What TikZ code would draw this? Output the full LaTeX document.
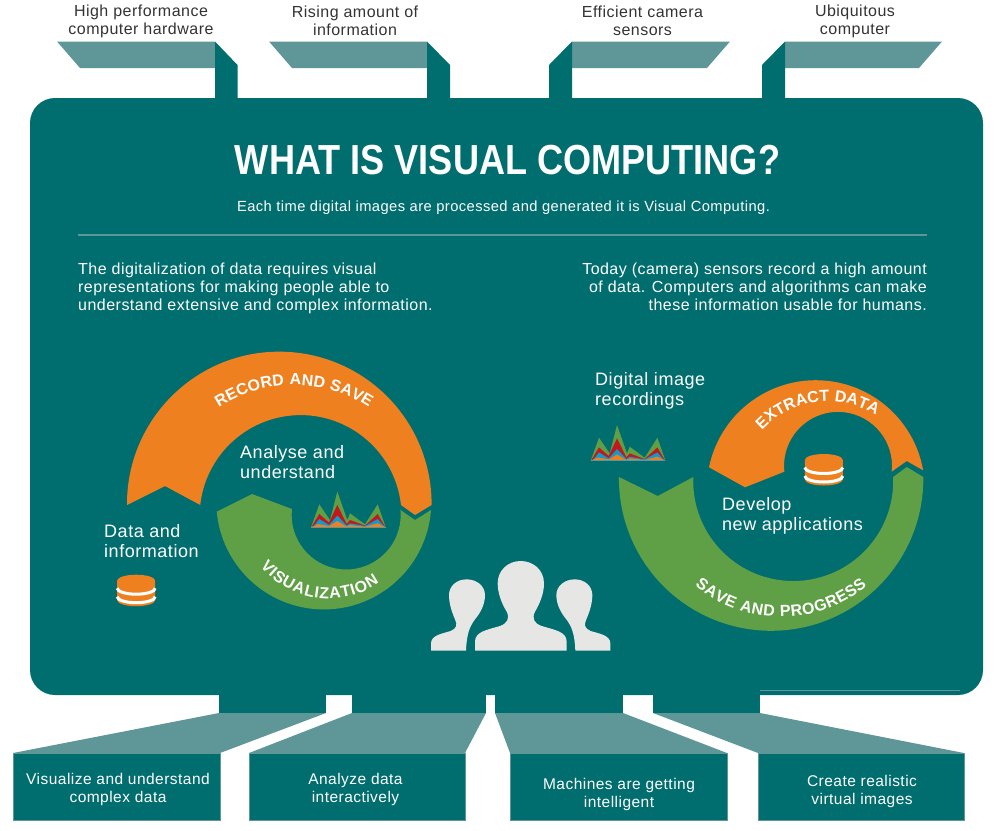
\documentclass[tikz,border=0pt]{standalone}
\usepackage{fontspec}
\setmainfont[LetterSpace=3]{Liberation Sans}
\newfontfamily\titlefont[FakeStretch=0.86]{Liberation Sans}
\usetikzlibrary{decorations.text}
\definecolor{panelteal}{HTML}{006D6F}
\definecolor{lightteal}{HTML}{5F9799}
\definecolor{ringorange}{HTML}{EF8020}
\definecolor{ringgreen}{HTML}{5F9F45}
\definecolor{chartred}{HTML}{C5161D}
\definecolor{chartblue}{HTML}{0E9BD0}
\definecolor{persongray}{HTML}{E6E6E5}
\definecolor{toptext}{HTML}{333333}
\tikzstyle{panel} = [rectangle, fill=panelteal, rounded corners=25pt, minimum width=953pt, minimum height=597pt, inner sep=0pt]
\tikzstyle{outbox} = [rectangle, fill=panelteal, draw=lightteal, line width=0.5pt, minimum height=67pt, inner sep=0pt]
\tikzstyle{toplabel} = [text=toptext, align=center, font=\fontsize{16}{18}\selectfont]
\tikzstyle{boxlabel} = [text=white, align=center, font=\fontsize{15.5}{18}\selectfont]
\tikzstyle{bodytext} = [text=white, inner sep=0pt, font=\fontsize{16}{18}\selectfont]
\tikzstyle{ringlabel} = [text=white, inner sep=0pt, align=left, anchor=north west, font=\fontsize{18}{20}\selectfont]
\tikzstyle{person} = [fill=persongray]
\newcommand{\ringfont}{\fontsize{16}{16}\selectfont\bfseries}
\newcommand{\ringtext}[7]{\path [decorate, decoration={text effects along path, text={#6}, text align=center,
	text effects/.cd, text along path, characters={text=white, font=\ringfont, inner xsep=#7pt}, character widths={font=\ringfont, inner xsep=#7pt}}]
	([shift={(#4:#3pt)}]#1,#2) arc[start angle=#4, end angle=#5, radius=#3pt];}
\newcommand{\sideperson}{\fill [person] (33,302) -- (33,280) .. controls (33,255) and (70,250) .. (92,243)
	.. controls (110,235) and (113,225) .. (105,208) .. controls (95,185) and (87,160) .. (87,135)
	.. controls (87,108) and (110,88) .. (140,88) .. controls (170,88) and (195,108) .. (195,135)
	.. controls (195,165) and (180,190) .. (165,208) .. controls (150,228) and (140,250) .. (138,302) -- cycle;}
\tikzset{
	minichart/.pic={
		\fill [ringgreen] (0,0) -- (8.3,-23) -- (19,-7.3) -- (26.3,-35.7) -- (36.3,-7.3) -- (39,-14) -- (54,-3) -- (66.7,-23) -- (74.7,0) -- cycle;
		\fill [chartred] (.7,-.7) -- (8.3,-13.3) -- (18,-4.7) -- (26.3,-22.3) -- (35.7,-3.3) -- (39,-7.3) -- (54,-1.7) -- (66.7,-13.3) -- (74,-.7) -- cycle;
		\fill [chartblue] (2.3,-.7) -- (8.3,-8.3) -- (18,-2.3) -- (26.3,-11.7) -- (35.7,-1.7) -- (39,-4) -- (54,-1.3) -- (66.7,-8.3) -- (73.3,-.7) -- cycle;
		\fill [ringorange] (0,0) -- (7.3,-3.3) -- (18,-1.3) -- (26.3,-6.3) -- (35.7,-.7) -- (39,-2.3) -- (54,-.7) -- (66.7,-4) -- (74.7,0) -- cycle;
		\draw [lightteal, line width=0.6pt] (0,0) -- (74.7,0);
	},
	database/.pic={
		\fill [ringorange] (-19,6) arc[start angle=180, end angle=0, x radius=19pt, y radius=6pt]
			-- (19,25.5) arc[start angle=0, end angle=-180, x radius=19pt, y radius=6pt] -- cycle;
		\draw [white, line width=3pt] (-19,13.5) arc[start angle=180, end angle=360, x radius=19pt, y radius=6pt];
		\draw [white, line width=3pt] (-19,22) arc[start angle=180, end angle=360, x radius=19pt, y radius=6pt];
	}
}

\begin{document}
\begin{tikzpicture}[x=1pt, y=-1pt]
	\useasboundingbox (0,0) rectangle (1000,830);

	\fill [lightteal] (57,41.5) -- (215,41.5) -- (215,68) -- (80,68) -- cycle;
	\fill [lightteal] (269,41.5) -- (427,41.5) -- (427,68) -- (292,68) -- cycle;
	\fill [lightteal] (572,41.5) -- (730,41.5) -- (707,68) -- (572,68) -- cycle;
	\fill [lightteal] (785,41.5) -- (942,41.5) -- (919,68) -- (785,68) -- cycle;
	\fill [panelteal] (215,41.5) -- (237.5,65) -- (237.5,100) -- (215,100) -- cycle;
	\fill [panelteal] (427,41.5) -- (450,65) -- (450,100) -- (427,100) -- cycle;
	\fill [panelteal] (572,41.5) -- (549,65) -- (549,100) -- (572,100) -- cycle;
	\fill [panelteal] (785,41.5) -- (762,65) -- (762,100) -- (785,100) -- cycle;

	\node [toplabel] (hardware) at (141,21) {High performance\\computer hardware};
	\node [toplabel] (amount) at (355,21) {Rising amount of\\information};
	\node [toplabel] (sensors) at (642.5,20.5) {Efficient camera\\sensors};
	\node [toplabel] (ubiquitous) at (855,21) {Ubiquitous\\computer};

	\node [panel] (main) at (506.5,396.5) {};

	\fill [panelteal] (219,690) rectangle (326,713);
	\fill [panelteal] (352,690) rectangle (486,713);
	\fill [panelteal] (495,690) rectangle (623,713);
	\fill [panelteal] (653,690) rectangle (760,713);
	\draw [lightteal, line width=0.5pt] (760,690) -- (960,690);

	\fill [lightteal] (219,713) -- (326,713) -- (220,753) -- (13,753) -- cycle;
	\fill [lightteal] (352,713) -- (486,713) -- (465,753) -- (249,753) -- cycle;
	\fill [lightteal] (495,713) -- (623,713) -- (727,753) -- (510,753) -- cycle;
	\fill [lightteal] (653,713) -- (760,713) -- (964,753) -- (758,753) -- cycle;

	\node [outbox, minimum width=207pt] (visualize) at (116.5,786.5) {};
	\node [outbox, minimum width=216pt] (analyze) at (357,786.5) {};
	\node [outbox, minimum width=217pt] (machines) at (618.5,786.5) {};
	\node [outbox, minimum width=206pt] (realistic) at (861,786.5) {};
	\node [boxlabel] (visualizetext) at (118,789) {Visualize and understand\\complex data};
	\node [boxlabel] (analyzetext) at (355.5,789) {Analyze data\\interactively};
	\node [boxlabel] (machinestext) at (619,794) {Machines are getting\\intelligent};
	\node [boxlabel] (realistictext) at (862,791) {Create realistic\\virtual images};

	\node [text=white, inner sep=0pt] (title) at (507.5,160) {\titlefont\fontsize{42}{42}\selectfont\bfseries WHAT IS VISUAL COMPUTING?};
	\node [text=white, inner sep=0pt, font=\fontsize{14.7}{17}\selectfont] (subtitle) at (503.5,208) {Each time digital images are processed and generated it is Visual Computing.};
	\draw [lightteal, line width=1.2pt] (78,235) -- (927,235);

	\node [bodytext, anchor=north west, align=left] (lefttext) at (78,263) {The digitalization of data requires visual\\representations for making people able to\\understand extensive and complex information.};
	\node [bodytext, anchor=north east, align=right] (righttext) at (927,263) {Today (camera) sensors record a high amount\\of data. Computers and algorithms can make\\these information usable for humans.};

	\fill [ringorange] (127,505) arc[start angle=180.4, end angle=-0.4, radius=152.3pt]
		-- (415,515) -- (401,505) arc[start angle=6.3, end angle=173.7, radius=101pt]
		-- (165,486) -- cycle;
	\fill [ringgreen] (216,512) -- (252,494) -- (292,509) arc[start angle=173.7, end angle=365.3, radius=54.5pt]
		-- (415,520) -- (431,510) arc[start angle=-4.3, end angle=-174.7, radius=107.5pt] -- cycle;
	\fill [ringgreen] (619,477) -- (657.7,496) -- (693.3,477) arc[start angle=177.7, end angle=362.3, radius=100pt]
		-- (906.7,467) -- (923.3,477) arc[start angle=0.6, end angle=-180.6, radius=152.2pt] -- cycle;
	\fill [ringorange] (709,467.3) arc[start angle=168.4, end angle=10, radius=109pt]
		-- (906.7,461) -- (891.7,471.7) arc[start angle=-6.2, end angle=186.2, radius=54pt]
		-- (745,487.3) -- cycle;

	\ringtext{294}{522}{137}{150}{30}{RECORD AND SAVE}{0.05}
	\ringtext{328.7}{510.7}{88}{192}{332}{VISUALIZATION}{0.4}
	\ringtext{828}{491.4}{90}{160}{35}{EXTRACT DATA}{0}
	\ringtext{781}{481.7}{135}{210}{330}{SAVE AND PROGRESS}{0.25}

	\node [ringlabel] (analyse) at (240,445.5) {Analyse and\\understand};
	\node [ringlabel] (data) at (104,524.5) {Data and\\information};
	\node [ringlabel] (digital) at (595,372.5) {Digital image\\recordings};
	\node [ringlabel] (develop) at (722,497.5) {Develop\\new applications};

	\pic at (311,527.3) {minichart};
	\pic at (590.7,460.7) {minichart};
	\pic at (136.2,574.7) {database};
	\pic at (823.8,454) {database};

	\begin{scope}[shift={(420,550)}, x=1/3*1pt, y=-1/3*1pt]
		\sideperson
		\begin{scope}[shift={(604,0)}, xscale=-1]
			\sideperson
		\end{scope}
		\fill [person] (165,302) -- (165,275) .. controls (165,245) and (200,240) .. (240,228)
			.. controls (262,220) and (270,205) .. (260,185) .. controls (245,160) and (233,130) .. (233,100)
			.. controls (233,60) and (265,33) .. (302,33) .. controls (340,33) and (372,60) .. (372,100)
			.. controls (372,130) and (360,160) .. (345,185) .. controls (335,205) and (342,220) .. (365,228)
			.. controls (405,240) and (440,245) .. (440,275) -- (440,302) -- cycle;
	\end{scope}
\end{tikzpicture}
\end{document}
